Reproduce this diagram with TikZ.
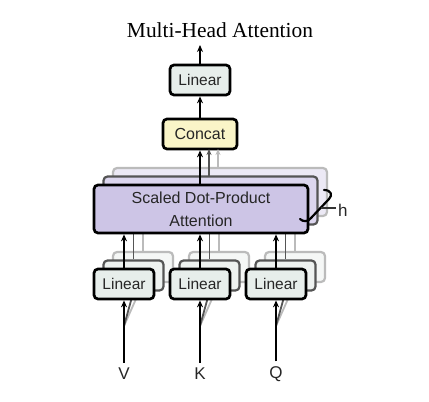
\documentclass[tikz,border=0pt]{standalone}
\usepackage{fontspec}
\setmainfont{Liberation Serif}
\setsansfont{Liberation Sans}
\usetikzlibrary{arrows.meta}
\definecolor{linfill}{HTML}{E7EEEB}
\definecolor{catfill}{HTML}{FAF5C8}
\definecolor{sdpfill}{HTML}{CDC5E6}
\definecolor{sdpfillA}{HTML}{DCD6EE}
\definecolor{sdpfillB}{HTML}{ECE9F5}
\definecolor{linfillA}{HTML}{EEF2F0}
\definecolor{linfillB}{HTML}{F5F7F6}
\definecolor{midgray}{HTML}{555555}
\definecolor{lightgray}{HTML}{BBBBBB}
\begin{document}
\begin{tikzpicture}[x=1pt,y=-1pt,
  box/.style={draw=black,line width=2.7pt,rounded corners=4pt,inner sep=0pt,
    font=\sffamily\fontsize{15.5}{17}\selectfont,text=black!85},
  copyA/.style={draw=midgray,line width=2.2pt,rounded corners=4pt,inner sep=0pt},
  copyB/.style={draw=lightgray,line width=2.2pt,rounded corners=4pt,inner sep=0pt},
  linbox/.style={box,fill=linfill,minimum width=60pt,minimum height=30pt},
  linA/.style={copyA,fill=linfillA,minimum width=60pt,minimum height=30pt},
  linB/.style={copyB,fill=linfillB,minimum width=60pt,minimum height=30pt},
  sdpbox/.style={box,fill=sdpfill,minimum width=214pt,minimum height=48pt,align=center,
    font=\sffamily\fontsize{16}{23}\selectfont},
  sdpA/.style={copyA,fill=sdpfillA,minimum width=214pt,minimum height=48pt},
  sdpB/.style={copyB,fill=sdpfillB,minimum width=214pt,minimum height=48pt},
  arr/.style={line width=2.2pt,-{Stealth[length=7pt,width=6pt]}},
  garrA/.style={line width=1.8pt,draw=midgray,-{Stealth[length=6pt,width=5pt]}},
  garrB/.style={line width=1.8pt,draw=lightgray,-{Stealth[length=6pt,width=5pt]}},
  glineA/.style={line width=1.8pt,draw=midgray},
  glineB/.style={line width=1.8pt,draw=lightgray},
  inlabel/.style={font=\sffamily\fontsize{17}{19}\selectfont,text=black!85,inner sep=1pt}
]
\useasboundingbox (0,0) rectangle (429,402);
% title
\node[font=\rmfamily\fontsize{21.4}{24}\selectfont] (title) at (220,30) {Multi-Head Attention};
% input labels
\node[inlabel] (V) at (124,374) {V};
\node[inlabel] (K) at (200,374) {K};
\node[inlabel] (Q) at (276,374) {Q};
% fan-out points on the input arrows
\coordinate (fv) at (124,326);
\coordinate (fk) at (200,326);
\coordinate (fq) at (276,326);
% back copies of SDPA
\node[sdpB] (sdpb) at (220,192) {};
\node[sdpA] (sdpa) at (210.5,200.5) {};
% back copies of linear
\foreach \n/\x in {v/124,k/200,q/276}{
  \node[linB] (lin\n b) at (\x+19,267) {};
}
\foreach \n/\x in {v/124,k/200,q/276}{
  \node[linA] (lin\n a) at (\x+9.5,275.5) {};
}
% gray lines from copies to SDPA
\foreach \n in {v,k,q}{
  \draw[glineB] (lin\n b.north) -- (lin\n b.north |- sdpb.south);
  \draw[glineA] (lin\n a.north) -- (lin\n a.north |- sdpa.south);
}
% gray input lines
\foreach \n in {v,k,q}{
  \draw[glineB] (f\n) -- (lin\n b.south);
  \draw[glineA] (f\n) -- (lin\n a.south);
}
% front boxes
\node[sdpbox] (sdp) at (201,209) {Scaled Dot-Product\\Attention};
\node[linbox] (linv) at (124,284) {Linear};
\node[linbox] (link) at (200,284) {Linear};
\node[linbox] (linq) at (276,284) {Linear};
\node[box,fill=catfill,minimum width=74pt,minimum height=30pt,font=\sffamily\fontsize{16}{18}\selectfont] (concat) at (200,134) {Concat};
\node[linbox] (lintop) at (200,80) {Linear};
\coordinate (out) at (200,45);
% arrows
\foreach \n/\m in {v/V,k/K,q/Q}{
  \draw[arr] (\m.north) ++(0,-4) -- (lin\n.south);
  \draw[arr] (lin\n.north) -- (lin\n.north |- sdp.south);
}
\draw[garrB] (218,167) -- (218,149);
\draw[garrA] (209,176) -- (209,149);
\draw[arr] (sdp.north -| concat.south) -- (concat.south);
\draw[arr] (concat.north) -- (lintop.south);
\draw[arr] (lintop.north) -- (out);
% bracket h
\draw[line width=2.2pt,line cap=round] (324,190) .. controls (331,190) and (333,195) .. (329,199) -- (311,218) .. controls (308,222) and (303,222) .. (300,219);
\draw[line width=1.6pt,draw=black!80] (321,208) -- (336,208);
\node[inlabel,anchor=west] (h) at (337,210) {h};
\end{tikzpicture}
\end{document}
